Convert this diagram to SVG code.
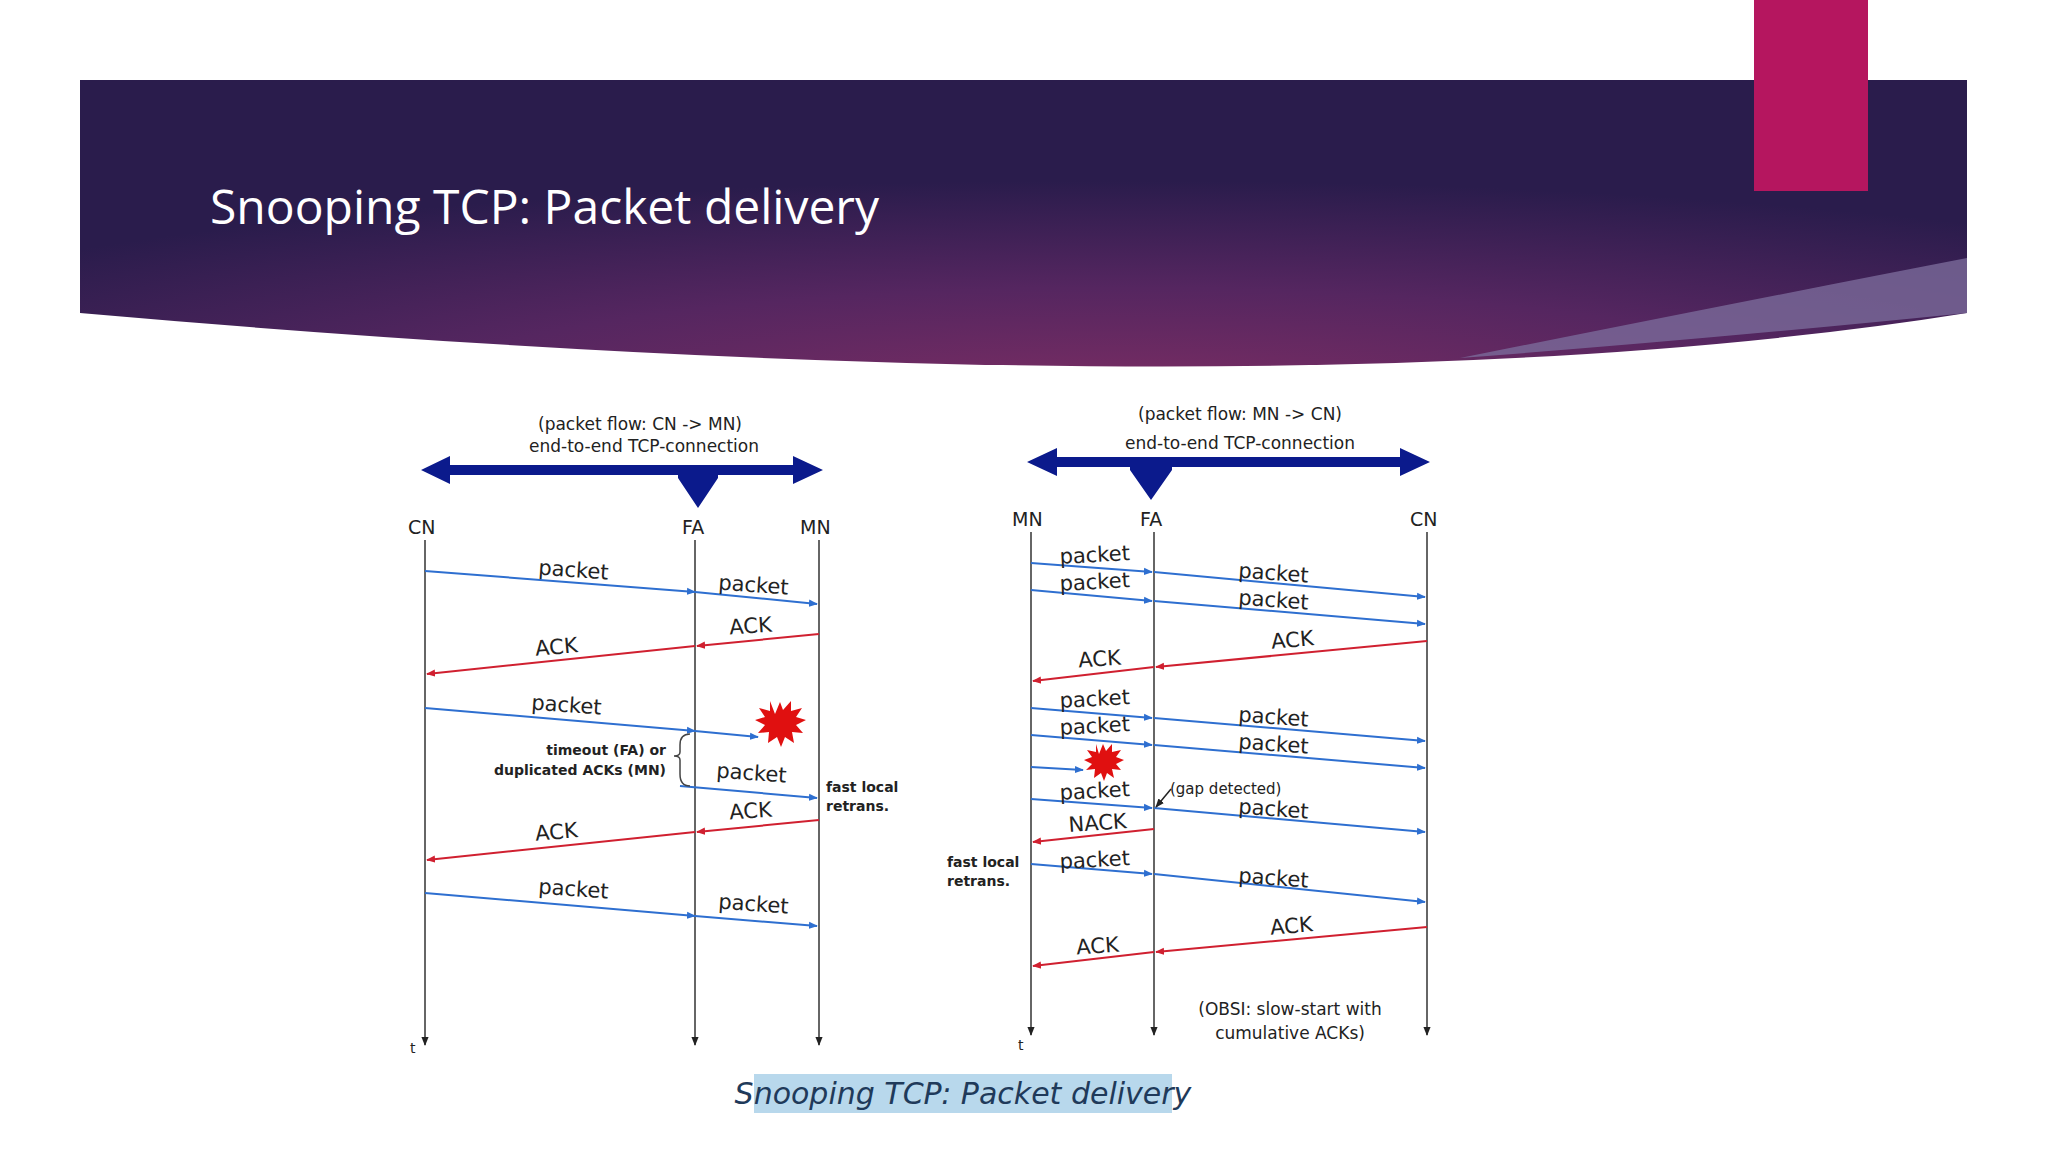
<svg xmlns="http://www.w3.org/2000/svg" width="2048" height="1152" viewBox="0 0 2048 1152">
<defs>
<radialGradient id="hg" cx="0.55" cy="1.1" r="0.75" gradientTransform="scale(1,1)">
<stop offset="0" stop-color="#7a2d63"/>
<stop offset="0.5" stop-color="#552660"/>
<stop offset="1" stop-color="#2a1c4c"/>
</radialGradient>
<marker id="ab" viewBox="0 0 10 10" refX="9" refY="5" markerWidth="9" markerHeight="9" markerUnits="userSpaceOnUse" orient="auto"><path d="M0,1 L10,5 L0,9 z" fill="#2e6fd0"/></marker>
<marker id="ar" viewBox="0 0 10 10" refX="9" refY="5" markerWidth="9" markerHeight="9" markerUnits="userSpaceOnUse" orient="auto"><path d="M0,1 L10,5 L0,9 z" fill="#d02030"/></marker>
<marker id="ak" viewBox="0 0 10 10" refX="9" refY="5" markerWidth="9" markerHeight="9" markerUnits="userSpaceOnUse" orient="auto"><path d="M0,1 L10,5 L0,9 z" fill="#222"/></marker>
<style>
.t{font-family:"DejaVu Sans",sans-serif;fill:#222}
.l{font-size:21px;text-anchor:middle}
.h{font-size:17px;text-anchor:middle}
.s{font-size:14px;font-weight:bold}
.b{stroke:#2e6fd0;stroke-width:2;fill:none;marker-end:url(#ab)}
.r{stroke:#d02030;stroke-width:2;fill:none;marker-end:url(#ar)}
.v{stroke:#666;stroke-width:2;marker-end:url(#ak)}
.big{fill:#0b1a8c}
</style>
</defs>
<rect width="2048" height="1152" fill="#fff"/>
<g id="header">
<path d="M80,80 H1967 V313 Q1300,420 80,313 Z" fill="url(#hg)"/>
<path d="M1967,258 V313 Q1700,340 1460,358 Q1750,300 1967,258 Z" fill="#7a6a9a" opacity="0.8"/>
<rect x="1754" y="0" width="114" height="191" fill="#b5165f"/>
<text x="210" y="224" font-family="'Open Sans',sans-serif" font-size="48" fill="#fff">Snooping TCP: Packet delivery</text>
</g>
<g id="left">
<text class="t h" x="640" y="430">(packet flow: CN -&gt; MN)</text>
<text class="t h" x="644" y="452">end-to-end TCP-connection</text>
<path class="big" d="M421,470 L450,456 L450,465 L793,465 L793,456 L823,470 L793,484 L793,475 L718,475 L718,478 L698,508 L678,478 L678,475 L450,475 L450,484 Z"/>
<text class="t" x="408" y="534" font-size="19">CN</text>
<text class="t" x="682" y="534" font-size="19">FA</text>
<text class="t" x="800" y="534" font-size="19">MN</text>
<line class="v" x1="425" y1="540" x2="425" y2="1045"/>
<line class="v" x1="695" y1="540" x2="695" y2="1045"/>
<line class="v" x1="819" y1="540" x2="819" y2="1045"/>
<text class="t" x="410" y="1053" font-size="14">t</text>
</g>
<g id="right">
<text class="t h" x="1240" y="420">(packet flow: MN -&gt; CN)</text>
<text class="t h" x="1240" y="449">end-to-end TCP-connection</text>
<path class="big" d="M1027,462 L1057,448 L1057,457 L1400,457 L1400,448 L1430,462 L1400,476 L1400,467 L1172,467 L1172,470 L1151,500 L1130,470 L1130,467 L1057,467 L1057,476 Z"/>
<text class="t" x="1012" y="526" font-size="19">MN</text>
<text class="t" x="1140" y="526" font-size="19">FA</text>
<text class="t" x="1410" y="526" font-size="19">CN</text>
<line class="v" x1="1031" y1="532" x2="1031" y2="1035"/>
<line class="v" x1="1154" y1="532" x2="1154" y2="1035"/>
<line class="v" x1="1427" y1="532" x2="1427" y2="1035"/>
<text class="t" x="1018" y="1050" font-size="14">t</text>
</g>
<g id="connectors">
<!-- left -->
<path class="b" d="M425,571 L695,592"/><path class="b" d="M695,592 L817,604"/>
<path class="r" d="M819,634 L697,646"/><path class="r" d="M695,646 L427,674"/>
<path class="b" d="M425,708 L695,731"/><path class="b" d="M695,731 L758,737"/>
<path class="b" d="M680,786 L817,798"/>
<path class="r" d="M819,820 L697,832"/><path class="r" d="M695,832 L427,860"/>
<path class="b" d="M425,893 L695,916"/><path class="b" d="M695,916 L817,926"/>
<!-- right -->
<path class="b" d="M1031,563 L1152,572"/><path class="b" d="M1154,572 L1425,597"/>
<path class="b" d="M1031,590 L1152,601"/><path class="b" d="M1154,601 L1425,624"/>
<path class="r" d="M1427,641 L1156,667"/><path class="r" d="M1154,667 L1033,681"/>
<path class="b" d="M1031,708 L1152,718"/><path class="b" d="M1154,718 L1425,741"/>
<path class="b" d="M1031,735 L1152,745"/><path class="b" d="M1154,745 L1425,768"/>
<path class="b" d="M1031,767 L1083,770"/>
<path class="b" d="M1031,799 L1152,808"/><path class="b" d="M1154,808 L1425,832"/>
<path class="r" d="M1154,829 L1033,842"/>
<path class="b" d="M1031,864 L1152,874"/><path class="b" d="M1154,874 L1425,902"/>
<path class="r" d="M1427,927 L1156,952"/><path class="r" d="M1154,952 L1033,966"/>
<path d="M1171,789 L1156,807" stroke="#222" stroke-width="1.5" marker-end="url(#ak)"/>
<path d="M690,734 Q680,734 680,745 L680,752 Q680,756 674,756 Q680,756 680,760 L680,774 Q680,786 690,786" stroke="#444" stroke-width="1.5" fill="none"/>
</g>
<g id="labels">
<text class="t l" x="573" y="577" transform="rotate(4 573 577)">packet</text>
<text class="t l" x="753" y="592" transform="rotate(4 753 592)">packet</text>
<text class="t l" x="751" y="633" transform="rotate(-4 751 633)">ACK</text>
<text class="t l" x="557" y="654" transform="rotate(-5 557 654)">ACK</text>
<text class="t l" x="566" y="712" transform="rotate(4 566 712)">packet</text>
<text class="t s" x="666" y="755" text-anchor="end">timeout (FA) or</text>
<text class="t s" x="666" y="775" text-anchor="end">duplicated ACKs (MN)</text>
<text class="t l" x="751" y="780" transform="rotate(4 751 780)">packet</text>
<text class="t s" x="826" y="792">fast local</text>
<text class="t s" x="826" y="811">retrans.</text>
<text class="t l" x="751" y="818" transform="rotate(-4 751 818)">ACK</text>
<text class="t l" x="557" y="839" transform="rotate(-5 557 839)">ACK</text>
<text class="t l" x="573" y="896" transform="rotate(4 573 896)">packet</text>
<text class="t l" x="753" y="911" transform="rotate(4 753 911)">packet</text>

<text class="t l" x="1095" y="562" transform="rotate(-3 1095 562)">packet</text>
<text class="t l" x="1273" y="580" transform="rotate(4 1273 580)">packet</text>
<text class="t l" x="1095" y="589" transform="rotate(-3 1095 589)">packet</text>
<text class="t l" x="1273" y="607" transform="rotate(4 1273 607)">packet</text>
<text class="t l" x="1293" y="647" transform="rotate(-5 1293 647)">ACK</text>
<text class="t l" x="1100" y="666" transform="rotate(-4 1100 666)">ACK</text>
<text class="t l" x="1095" y="706" transform="rotate(-3 1095 706)">packet</text>
<text class="t l" x="1273" y="724" transform="rotate(4 1273 724)">packet</text>
<text class="t l" x="1095" y="733" transform="rotate(-3 1095 733)">packet</text>
<text class="t l" x="1273" y="751" transform="rotate(4 1273 751)">packet</text>
<text class="t l" x="1095" y="798" transform="rotate(-3 1095 798)">packet</text>
<text class="t" x="1170" y="794" font-size="15">(gap detected)</text>
<text class="t l" x="1273" y="816" transform="rotate(4 1273 816)">packet</text>
<text class="t l" x="1098" y="830" transform="rotate(-4 1098 830)">NACK</text>
<text class="t s" x="947" y="867">fast local</text>
<text class="t s" x="947" y="886">retrans.</text>
<text class="t l" x="1095" y="867" transform="rotate(-3 1095 867)">packet</text>
<text class="t l" x="1273" y="885" transform="rotate(4 1273 885)">packet</text>
<text class="t l" x="1292" y="933" transform="rotate(-5 1292 933)">ACK</text>
<text class="t l" x="1098" y="953" transform="rotate(-4 1098 953)">ACK</text>
<text class="t h" x="1290" y="1015">(OBSI: slow-start with</text>
<text class="t h" x="1290" y="1039">cumulative ACKs)</text>
</g>
<g id="bursts">
<path d="M775,714 l5,-12 l3,8 l8,-9 l0,10 l11,-3 l-6,9 l10,3 l-10,5 l7,8 l-11,-1 l2,11 l-9,-6 l-4,10 l-4,-10 l-9,6 l1,-11 l-11,1 l7,-8 l-10,-5 l10,-3 l-6,-9 l11,3 l0,-10 z" fill="#e01010"/>
<path d="M1099,754 l4,-10 l3,7 l6,-7 l0,8 l9,-2 l-5,7 l8,3 l-8,4 l5,6 l-9,-1 l2,9 l-7,-5 l-3,8 l-3,-8 l-7,5 l1,-9 l-9,1 l6,-6 l-8,-4 l8,-3 l-5,-7 l9,2 l0,-8 z" fill="#e01010"/>
</g>
<g id="caption">
<rect x="754" y="1074" width="418" height="39" fill="#b8d8ec"/>
<text x="963" y="1104" font-family="'DejaVu Sans',sans-serif" font-style="italic" font-size="30" fill="#1f3a5a" text-anchor="middle">Snooping TCP: Packet delivery</text>
</g>
</svg>
